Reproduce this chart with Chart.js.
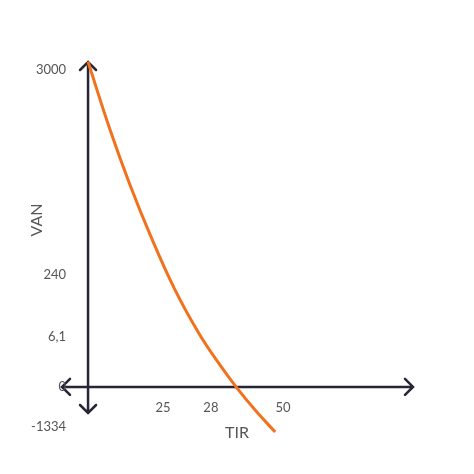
<!DOCTYPE html>
<html>
<head>
<meta charset="utf-8">
<script src="https://cdn.jsdelivr.net/npm/chart.js@4/dist/chart.umd.min.js"></script>
<style>
  html, body { margin: 0; padding: 0; background: #fff; }
  #wrap { width: 474px; height: 474px; }
</style>
</head>
<body>
<div id="wrap"><canvas id="chart"></canvas></div>
<script>
// schematic chart: positions on a 0-100 layout scale, labels as printed
var curveX = [7.9, 14.1, 19.7, 25.4, 32.4, 39.4, 45.1, 49.6, 54.9, 60.6];
var curveY = [99.0, 81.2, 66.8, 53.7, 39.3, 27.5, 19.6, 13.9, 7.9, 2.1];
var yTickAt = [96.9, 43.2, 27.0, 13.9, 3.4];
var yTickLabels = ['3000', '240', '6,1', '0', '-1334'];
var xTickAt = [29.0, 42.5, 62.8];
var xTickLabels = ['25', '28', '50'];
var axisX0 = 7.9;   // vertical axis position
var axisY0 = 13.9;  // horizontal axis position

var points = curveX.map(function(x, i){ return {x: x, y: curveY[i]}; });

var axesPlugin = {
  id: 'arrowAxes',
  beforeDatasetsDraw: function(chart){
    var ctx = chart.ctx, xs = chart.scales.x, ys = chart.scales.y;
    var ax = xs.getPixelForValue(axisX0), ay = ys.getPixelForValue(axisY0);
    var a = chart.chartArea;
    ctx.save();
    ctx.strokeStyle = '#262636';
    ctx.lineWidth = 2.5;
    ctx.lineCap = 'round';
    ctx.beginPath();
    ctx.moveTo(ax, a.top + 4); ctx.lineTo(ax, a.bottom - 27);
    ctx.moveTo(a.left + 2, ay); ctx.lineTo(a.right - 2, ay);
    // arrow heads
    ctx.moveTo(ax - 8, a.top + 12); ctx.lineTo(ax, a.top + 4); ctx.lineTo(ax + 8, a.top + 12);
    ctx.moveTo(ax - 8, a.bottom - 35); ctx.lineTo(ax, a.bottom - 27); ctx.lineTo(ax + 8, a.bottom - 35);
    ctx.moveTo(a.left + 10, ay - 8); ctx.lineTo(a.left + 2, ay); ctx.lineTo(a.left + 10, ay + 8);
    ctx.moveTo(a.right - 10, ay - 8); ctx.lineTo(a.right - 2, ay); ctx.lineTo(a.right - 10, ay + 8);
    ctx.stroke();

    ctx.fillStyle = '#555';
    ctx.font = '13px Lato';
    ctx.textAlign = 'right';
    ctx.textBaseline = 'middle';
    yTickAt.forEach(function(v, i){
      ctx.fillText(yTickLabels[i], ax - 22, ys.getPixelForValue(v));
    });
    ctx.textAlign = 'center';
    xTickAt.forEach(function(v, i){
      ctx.fillText(xTickLabels[i], xs.getPixelForValue(v), ay + 21);
    });
    ctx.font = '16px Lato';
    ctx.fillText('TIR', 237, 433);
    ctx.translate(37, 220);
    ctx.rotate(-Math.PI / 2);
    ctx.fillText('VAN', 0, 0);
    ctx.restore();
  }
};

new Chart(document.getElementById('chart'), {
  type: 'line',
  data: {
    datasets: [{
      data: points,
      borderColor: '#f2711c',
      borderWidth: 3,
      pointRadius: 0,
      tension: 0.4,
      fill: false
    }]
  },
  options: {
    responsive: true,
    maintainAspectRatio: false,
    animation: false,
    layout: { padding: { left: 60, right: 59, top: 58, bottom: 34 } },
    plugins: { legend: { display: false }, tooltip: { enabled: false } },
    scales: {
      x: { type: 'linear', min: 0, max: 100, display: false },
      y: { type: 'linear', min: 0, max: 100, display: false }
    }
  },
  plugins: [axesPlugin]
});
</script>
</body>
</html>
